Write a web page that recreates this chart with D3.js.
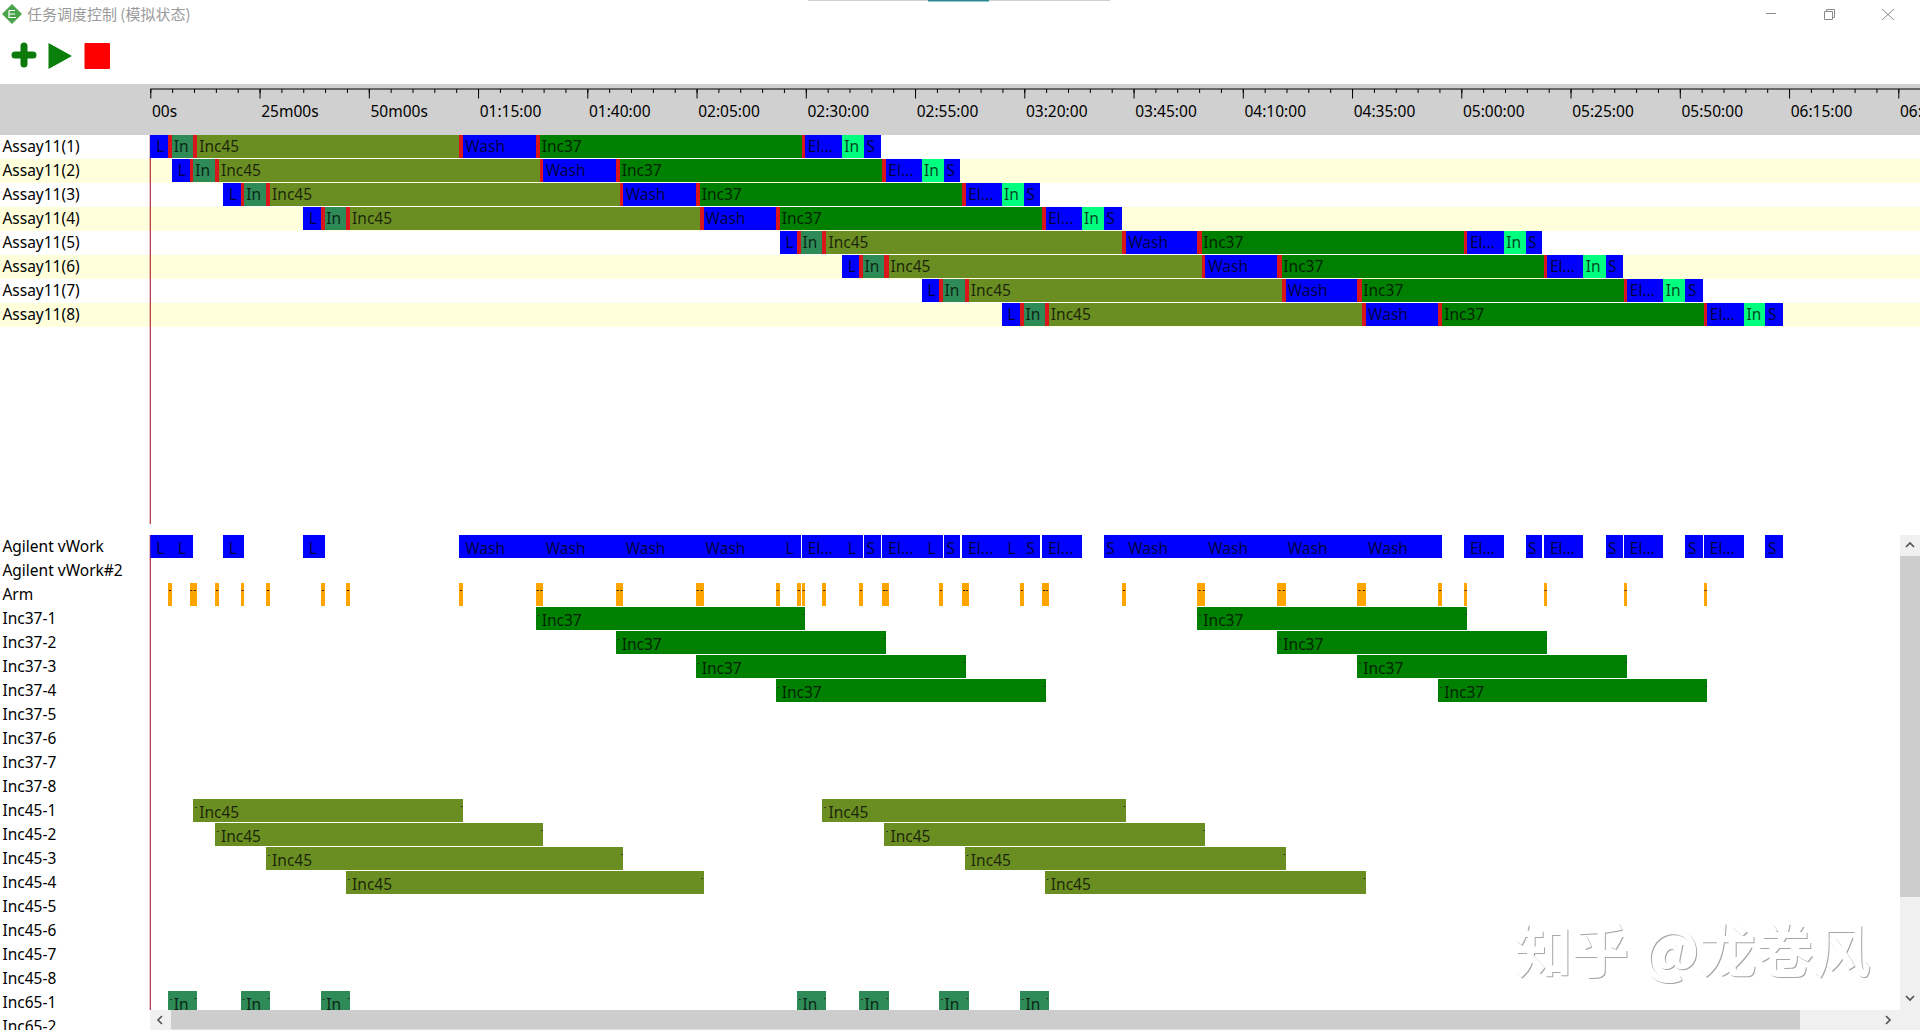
<!DOCTYPE html>
<html>
<head>
<meta charset="utf-8">
<title>任务调度控制</title>
<script src="https://d3js.org/d3.v7.min.js"></script>
<style>
  html, body { margin: 0; padding: 0; background: #fff; overflow: hidden; }
  text { font-family: "Noto Sans", "Noto Sans CJK SC", sans-serif; }
</style>
</head>
<body>
<svg id="chart" width="1920" height="1030"></svg>
<script>
// values, all times in minutes from the start of the run
const assayNames = ['Assay11(1)', 'Assay11(2)', 'Assay11(3)', 'Assay11(4)', 'Assay11(5)', 'Assay11(6)', 'Assay11(7)', 'Assay11(8)'];
const resourceNames = ['Agilent vWork', 'Agilent vWork#2', 'Arm',
  'Inc37-1', 'Inc37-2', 'Inc37-3', 'Inc37-4', 'Inc37-5', 'Inc37-6', 'Inc37-7', 'Inc37-8',
  'Inc45-1', 'Inc45-2', 'Inc45-3', 'Inc45-4', 'Inc45-5', 'Inc45-6', 'Inc45-7', 'Inc45-8',
  'Inc65-1', 'Inc65-2'];
const tickLabels = ['00s', '25m00s', '50m00s', '01:15:00', '01:40:00', '02:05:00', '02:30:00', '02:55:00', '03:20:00',
  '03:45:00', '04:10:00', '04:35:00', '05:00:00', '05:25:00', '05:50:00', '06:15:00', '06:40:00'];

// step kinds, in the order every assay goes through them. 'arm' is a robot move between two steps
const stepKinds = ['L', 'arm', 'In', 'arm', 'Inc45', 'arm', 'Wash', 'arm', 'Inc37', 'arm', 'El...', 'In2', 'S'];

// step boundaries per assay (14 numbers for 13 steps)
const assay1 = [0, 4.1, 4.9, 9.8, 10.6, 70.7, 71.5, 88.2, 89.1, 149.1, 149.9, 158.2, 163.3, 167.1];
const assay2 = [4.9, 9.0, 9.8, 14.8, 15.7, 89.1, 89.9, 106.5, 107.4, 167.5, 168.3, 176.5, 181.6, 185.4];
const assay3 = [16.6, 20.7, 21.5, 26.5, 27.4, 107.4, 108.2, 124.8, 125.7, 185.8, 186.6, 194.8, 199.9, 203.7];
const assay4 = [34.9, 39.0, 40.0, 44.8, 45.7, 125.7, 126.6, 143.1, 144.0, 204.1, 204.9, 213.1, 218.2, 222.3];
const assay5 = [144.0, 148.0, 148.8, 153.8, 154.6, 222.4, 223.2, 239.6, 240.6, 300.6, 301.4, 309.7, 314.7, 318.5];
const assay6 = [158.2, 162.2, 163.0, 168.0, 169.0, 240.7, 241.4, 257.9, 258.9, 318.9, 319.7, 327.9, 333.0, 337.1];
const assay7 = [176.5, 180.5, 181.3, 186.4, 187.3, 258.9, 259.8, 276.2, 277.2, 337.2, 338.0, 346.2, 351.3, 355.4];
const assay8 = [194.8, 199.0, 199.9, 204.7, 205.6, 277.3, 278.1, 294.7, 295.6, 355.5, 356.3, 364.7, 369.6, 373.7];
const assays = [assay1, assay2, assay3, assay4, assay5, assay6, assay7, assay8];

// which resource row each assay used
const inc37Rows = ['Inc37-1', 'Inc37-2', 'Inc37-3', 'Inc37-4', 'Inc37-1', 'Inc37-2', 'Inc37-3', 'Inc37-4'];
const inc45Rows = ['Inc45-1', 'Inc45-2', 'Inc45-3', 'Inc45-4', 'Inc45-1', 'Inc45-2', 'Inc45-3', 'Inc45-4'];
const inc65Rows = ['Inc65-1', 'Inc65-2', 'Inc65-1', 'Inc65-1', 'Inc65-1', 'Inc65-1', 'Inc65-1', 'Inc65-1'];

const colors = { L: '#0000ff', Wash: '#0000ff', 'El...': '#0000ff', S: '#0000ff', arm: '#d8161c', In: '#2e8b57', In2: '#00ff7f', Inc45: '#6b8e23', Inc37: '#008000' };

const W = 1920, H = 1030;
const rowH = 24, barH = 23;
const axisY = 89, topY = 135, lowY = 535, viewBottom = 1010, viewRight = 1900;
const fontSize = 15.5;

const svg = d3.select('#chart');
const x = d3.scaleLinear().domain([0, 405]).range([150.3, 150.3 + 405 * 109.25 / 25]);
const yTop = d3.scaleBand().domain(assayNames).range([topY, topY + rowH * assayNames.length]);
const yLow = d3.scaleBand().domain(resourceNames).range([lowY, lowY + rowH * resourceNames.length]);

// window chrome
svg.append('rect').attr('width', W).attr('height', H).attr('fill', '#fff');
svg.append('rect').attr('x', 808).attr('y', 0).attr('width', 302).attr('height', 1).attr('fill', '#cfcfcf');
svg.append('rect').attr('x', 928).attr('y', 0).attr('width', 61).attr('height', 1.5).attr('fill', '#2c8a96');
const icon = svg.append('g').attr('transform', 'translate(12,14)');
icon.append('path').attr('d', 'M0,-10L10,0L0,10L-10,0Z').attr('fill', '#4aa54a');
icon.append('path').attr('d', 'M-3,-3.5V3.5H4M-3,0H3M-3,-3.5H3').attr('fill', 'none').attr('stroke', '#fff').attr('stroke-width', 1.2);
svg.append('text').attr('x', 27).attr('y', 15).attr('dy', '0.35em')
  .attr('font-size', 15).attr('fill', '#9a9a9a')
  .style('font-family', '"Noto Sans CJK SC"').text('任务调度控制 (模拟状态)');
svg.append('path').attr('d', 'M1766,13.5H1776').attr('stroke', '#8a8a8a').attr('fill', 'none');
svg.append('path').attr('d', 'M1824.5,11.5H1832.5V19.5H1824.5ZM1826.5,11.5V9.5H1834.5V17.5H1832.5').attr('stroke', '#8a8a8a').attr('fill', 'none');
svg.append('path').attr('d', 'M1882,9L1894,20M1894,9L1882,20').attr('stroke', '#8a8a8a').attr('fill', 'none');

// toolbar
svg.append('path').attr('d', 'M24,46V64M15,55H33').attr('stroke', '#0b7a0b').attr('stroke-width', 7).attr('stroke-linecap', 'round').attr('fill', 'none');
svg.append('path').attr('d', 'M48.5,43L72,56L48.5,69Z').attr('fill', '#0b7f0b');
svg.append('rect').attr('x', 84.5).attr('y', 43).attr('width', 25.5).attr('height', 26).attr('rx', 1).attr('fill', '#ff0000');

// header with the time axis
svg.append('rect').attr('x', 0).attr('y', 84).attr('width', W).attr('height', topY - 84).attr('fill', '#d0d0d0');
const majorTicks = tickLabels.map((d, i) => i * 25);
svg.append('g').attr('transform', `translate(0,${axisY})`)
  .call(d3.axisBottom(x).tickValues(d3.range(0, 405, 5)).tickSize(4).tickFormat(''))
  .call(g => g.select('.domain').attr('stroke', '#000').attr('d', `M${x(0)},0H${W}`));
const majorAxis = svg.append('g').attr('transform', `translate(0,${axisY})`)
  .call(d3.axisBottom(x).tickValues(majorTicks).tickSize(9.5).tickFormat((d, i) => tickLabels[i]))
  .call(g => g.select('.domain').remove());
majorAxis.selectAll('text')
  .attr('text-anchor', 'start').attr('x', 1.2).attr('y', 22.5).attr('dy', '0.35em')
  .attr('fill', '#000').style('font-family', '"Noto Sans", sans-serif').style('font-size', fontSize + 'px');

// striped rows of the upper panel
svg.append('g').selectAll('rect').data(assayNames).join('rect')
  .attr('x', 0).attr('y', d => yTop(d)).attr('width', W).attr('height', rowH)
  .attr('fill', (d, i) => i % 2 ? '#ffffdc' : '#fff');

function rowLabels(names, scale) {
  svg.append('g').selectAll('text').data(names).join('text')
    .attr('x', 2.4).attr('y', d => scale(d) + 12).attr('dy', '0.35em')
    .attr('font-size', fontSize).attr('fill', '#000').text(d => d);
}
rowLabels(assayNames, yTop);
rowLabels(resourceNames, yLow);

// current time line, broken between the two panels
svg.append('path').attr('d', `M${x(0)},${topY}V524M${x(0)},${lowY}V${viewBottom}`)
  .attr('stroke', '#b03040').attr('stroke-width', 1.2).attr('fill', 'none');

// upper panel: one row per assay
const steps = [];
assays.forEach((a, i) => {
  stepKinds.forEach((kind, k) => {
    steps.push({ row: assayNames[i], kind, from: a[k], to: a[k + 1], labelFrom: k > 0 && stepKinds[k - 1] === 'arm' ? a[k - 1] : a[k] });
  });
});

// lower panel: what each resource was doing. Holding a resource includes the arm moves around the step
const jobs = [];
assays.forEach((a, i) => {
  jobs.push({ row: 'Agilent vWork', kind: 'L', from: a[0], to: a[2], labelFrom: a[0] });
  jobs.push({ row: inc65Rows[i], kind: 'In', from: a[1], to: a[4], labelFrom: a[1] });
  jobs.push({ row: inc45Rows[i], kind: 'Inc45', from: a[3], to: a[6], labelFrom: a[3] });
  jobs.push({ row: 'Agilent vWork', kind: 'Wash', from: a[5], to: a[8], labelFrom: a[5] });
  jobs.push({ row: inc37Rows[i], kind: 'Inc37', from: a[7], to: a[10], labelFrom: a[7] });
  jobs.push({ row: 'Agilent vWork', kind: 'El...', from: a[9], to: a[11], labelFrom: a[9] });
  jobs.push({ row: 'Agilent vWork', kind: 'S', from: a[12], to: a[13], labelFrom: a[12] });
  [1, 3, 5, 7, 9].forEach(k => jobs.push({ row: 'Arm', kind: 'armRes', from: a[k], to: a[k + 1], labelFrom: a[k] }));
});

function labelOf(d) {
  if (d.kind === 'arm' || d.kind === 'armRes') return '';
  return d.kind === 'In2' ? 'In' : d.kind;
}
function labelX(d) {
  if (d.kind === 'In2' || d.kind === 'S') return x(d.from) + 2.5;
  if (d.kind === 'In') return x(d.labelFrom) + 5.5;
  return x(d.labelFrom) + 6;
}

const defs = svg.append('defs');
defs.append('clipPath').attr('id', 'view').append('rect')
  .attr('x', x(0)).attr('y', lowY).attr('width', viewRight - x(0)).attr('height', viewBottom - lowY);

function drawBars(g, data, scale, textDy) {
  g.selectAll('rect').data(data).join('rect')
    .attr('shape-rendering', 'crispEdges')
    .attr('x', d => x(d.from)).attr('y', d => scale(d.row))
    .attr('width', d => x(d.to) - x(d.from)).attr('height', barH)
    .attr('fill', d => d.kind === 'armRes' ? '#ffa500' : colors[d.kind]);
  g.selectAll('text').data(data.filter(labelOf)).join('text')
    .attr('x', labelX).attr('y', d => scale(d.row) + 11.5 + textDy).attr('dy', '0.35em')
    .attr('font-size', fontSize).attr('fill', '#000').attr('fill-opacity', 0.75)
    .text(labelOf);
}
drawBars(svg.append('g'), steps, yTop, 0);
const lowG = svg.append('g').attr('clip-path', 'url(#view)');
drawBars(lowG, jobs, yLow, 2);

// the labels that do not fit are squeezed to a dark speck in the original: arm moves and both bar ends
const specks = lowG.append('g');
specks.selectAll('rect.arm').data(jobs.filter(d => d.kind === 'armRes')).join('rect')
  .attr('class', 'arm').attr('fill', '#222').attr('width', 2).attr('height', 1)
  .attr('x', d => x((d.from + d.to) / 2) - 1).attr('y', d => yLow(d.row) + 7);
const holds = jobs.filter(d => /^Inc|^In$/.test(d.kind));
specks.selectAll('rect.left').data(holds).join('rect')
  .attr('class', 'left').attr('fill', '#222').attr('width', 1.5).attr('height', 1)
  .attr('x', d => x(d.from) + 2).attr('y', d => yLow(d.row) + 8);
specks.selectAll('rect.right').data(holds).join('rect')
  .attr('class', 'right').attr('fill', '#222').attr('width', 1.5).attr('height', 1)
  .attr('x', d => x(d.to) - 2).attr('y', d => yLow(d.row) + 7);

// scrollbars
svg.append('rect').attr('x', x(0)).attr('y', viewBottom).attr('width', W - x(0)).attr('height', H - viewBottom).attr('fill', '#f0f0f0');
svg.append('rect').attr('x', 171).attr('y', viewBottom).attr('width', 1800 - 171).attr('height', 19.5).attr('fill', '#cdcdcd');
svg.append('rect').attr('x', viewRight).attr('y', lowY).attr('width', W - viewRight).attr('height', viewBottom - lowY).attr('fill', '#f0f0f0');
svg.append('rect').attr('x', viewRight).attr('y', 556).attr('width', W - viewRight).attr('height', 897 - 556).attr('fill', '#cdcdcd');
const arrow = { fill: 'none', stroke: '#505050', 'stroke-width': 1.6 };
[['M162,1016L158,1020L162,1024'], ['M1886,1016L1890,1020L1886,1024'], ['M1906,547L1910,543L1914,547'], ['M1906,996L1910,1000L1914,996']].forEach(([d]) => {
  const p = svg.append('path').attr('d', d);
  Object.entries(arrow).forEach(([k, v]) => p.attr(k, v));
});

// watermark: only the lower right rim of each stroke shows
const wm = defs.append('filter').attr('id', 'rim');
wm.append('feOffset').attr('in', 'SourceAlpha').attr('dx', -1).attr('dy', -1.5).attr('result', 'off');
wm.append('feComposite').attr('in', 'SourceGraphic').attr('in2', 'off').attr('operator', 'out');
svg.append('text').attr('x', 1516).attr('y', 973)
  .attr('font-size', 57).attr('font-weight', 700).attr('fill', '#a6a6a6').attr('filter', 'url(#rim)')
  .style('font-family', '"Noto Sans CJK SC"').text('知乎 @龙卷风');
</script>
</body>
</html>
